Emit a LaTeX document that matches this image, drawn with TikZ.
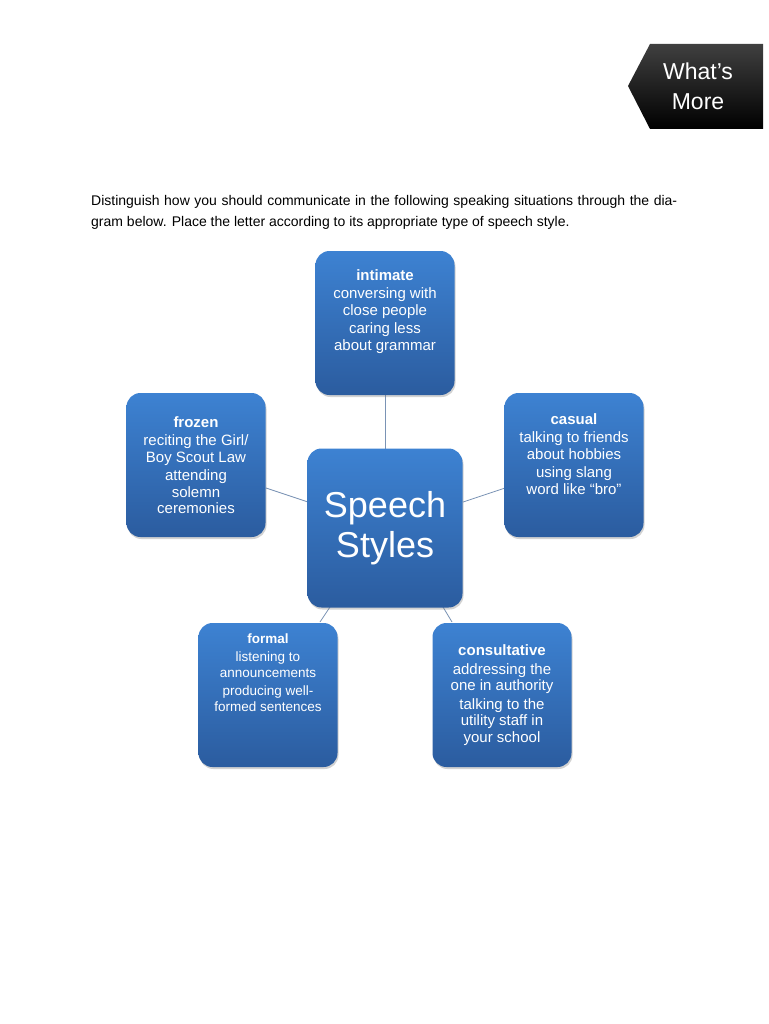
\documentclass[tikz,border=0pt]{standalone}
\usepackage{fontspec}
\setmainfont{Liberation Sans}
\usetikzlibrary{shadows}
\definecolor{btop}{HTML}{3D82D2}
\definecolor{bbot}{HTML}{2B5C9F}
\definecolor{lnk}{HTML}{7A93B5}
\begin{document}
\begin{tikzpicture}[x=1pt,y=-1pt,
  sbox/.style={rounded corners=14pt,top color=btop,bottom color=bbot,draw=none,
    text=white,align=center,minimum width=139pt,minimum height=144pt,inner sep=3pt,
    drop shadow={shadow xshift=1pt,shadow yshift=-2pt,opacity=0.35},font=\fontsize{15}{16.5}\selectfont},
  lnkline/.style={draw=lnk,line width=0.8pt}]
\useasboundingbox (0,0) rectangle (768,1024);
\fill[white] (0,0) rectangle (768,1024);
% badge
\shade[top color=black!75,bottom color=black] (650,44) -- (763,44) -- (763,129) -- (650,129) -- (628,86) -- cycle;
\node[text=white,align=center,font=\fontsize{23}{30}\selectfont] (badge) at (698,86) {What’s\\More};
% intro
\node[anchor=north west,text width=586pt,align=justify,inner sep=0pt,font=\fontsize{14}{21}\selectfont] (intro) at (91,195)
 {Distinguish how you should communicate in the following speaking situations through the diagram below. Place the letter according to its appropriate type of speech style.};
% nodes
\coordinate (cC) at (385,528);
\draw[lnkline] (385,395) -- (385,449);
\draw[lnkline] (266,488) -- (308,502);
\draw[lnkline] (463,502) -- (505,488);
\draw[lnkline] (320,622) -- (330,607);
\draw[lnkline] (443,607) -- (452,622);
\node[sbox] (intimate) at (385,323) {\textbf{intimate}\\[2pt]conversing with\\close people\\[2pt]caring less\\about grammar\\[10pt]};
\node[sbox] (frozen) at (196,465) {\textbf{frozen}\\[2pt]reciting the Girl/\\Boy Scout Law\\[2pt]attending\\solemn\\ceremonies};
\node[sbox] (casual) at (574,465) {\textbf{casual}\\[2pt]talking to friends\\about hobbies\\[2pt]using slang\\word like “bro”\\[6pt]};
\node[sbox,minimum width=155pt,minimum height=159pt,font=\fontsize{36}{40}\selectfont] (center) at (cC) {Speech\\Styles};
\node[sbox,font=\fontsize{13.5}{16}\selectfont] (formal) at (268,695) {\textbf{formal}\\[2pt]listening to\\announcements\\[2pt]producing well-\\formed sentences\\[28pt]};
\node[sbox] (consult) at (502,695) {\textbf{consultative}\\[2pt]addressing the\\one in authority\\[2pt]talking to the\\utility staff in\\your school};
\end{tikzpicture}
\end{document}
